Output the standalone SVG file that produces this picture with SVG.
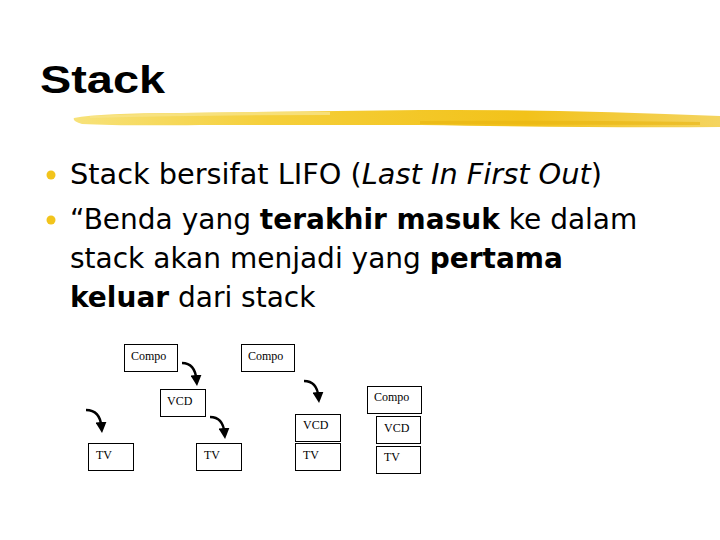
<svg xmlns="http://www.w3.org/2000/svg" width="720" height="540" viewBox="0 0 720 540">
<defs>
<linearGradient id="brush" x1="0" y1="0" x2="1" y2="0">
<stop offset="0" stop-color="#f7e27a"/>
<stop offset="0.3" stop-color="#f5cf3a"/>
<stop offset="0.7" stop-color="#f2c21a"/>
<stop offset="1" stop-color="#f4d460"/>
</linearGradient>
<marker id="ah" markerWidth="11" markerHeight="11" refX="5" refY="5.5" orient="auto" markerUnits="userSpaceOnUse">
<path d="M0,0 L11,5.5 L0,11 Z" fill="#000"/>
</marker>
<style>
.box{fill:#fff;stroke:#000;stroke-width:1}
.lbl{font-family:"Liberation Serif","Times New Roman",serif;font-size:12px;fill:#000}
.arr{fill:none;stroke:#000;stroke-width:2.4;marker-end:url(#ah)}
.body{font-family:"DejaVu Sans",Verdana,sans-serif;font-size:28px;fill:#000}
</style>
</defs>
<rect width="720" height="540" fill="#fff"/>
<text x="40" y="93" font-family="'Liberation Sans',Arial,sans-serif" font-weight="bold" font-size="38" textLength="125" lengthAdjust="spacingAndGlyphs">Stack</text>
<g id="brush-stroke">
<path d="M74,118 Q100,113 180,113 L420,110 Q560,109 720,116 L720,127 Q600,128 420,125 L200,125 Q120,126 82,124 Q72,121 74,118 Z" fill="url(#brush)"/>
<path d="M90,116 Q200,111 330,112 L330,115 Q200,115 90,118 Z" fill="#f8e48a" opacity="0.8"/>
<path d="M420,121 Q560,120 700,122 L700,125 Q560,125 420,124 Z" fill="#e8b410" opacity="0.6"/>
</g>
<g id="bullets">
<circle cx="51" cy="175" r="4.5" fill="#f2c41c"/>
<circle cx="51" cy="220" r="4.5" fill="#f2c41c"/>
<text class="body" x="70" y="184" textLength="532" lengthAdjust="spacingAndGlyphs">Stack bersifat LIFO (<tspan font-style="italic">Last In First Out</tspan>)</text>
<text class="body" x="70" y="229">“Benda yang <tspan font-weight="bold">terakhir masuk</tspan> ke dalam</text>
<text class="body" x="70" y="268">stack akan menjadi yang <tspan font-weight="bold">pertama</tspan></text>
<text class="body" x="70" y="307"><tspan font-weight="bold">keluar</tspan> dari stack</text>
</g>
<g id="compo1"><rect class="box" x="124.5" y="344.5" width="53" height="27"/><text class="lbl" x="131" y="360">Compo</text></g>
<g id="compo2"><rect class="box" x="241.5" y="344.5" width="53" height="27"/><text class="lbl" x="248" y="360">Compo</text></g>
<g id="vcd1"><rect class="box" x="160.5" y="389.5" width="45" height="27"/><text class="lbl" x="167" y="405">VCD</text></g>
<g id="tv1"><rect class="box" x="88.5" y="443.5" width="45" height="27"/><text class="lbl" x="96" y="459">TV</text></g>
<g id="tv2"><rect class="box" x="196.5" y="443.5" width="45" height="27"/><text class="lbl" x="204" y="459">TV</text></g>
<g id="vcd2"><rect class="box" x="295.5" y="414.5" width="45" height="27"/><text class="lbl" x="303" y="429">VCD</text></g>
<g id="tv3"><rect class="box" x="295.5" y="443.5" width="45" height="27"/><text class="lbl" x="303" y="459">TV</text></g>
<g id="compo3"><rect class="box" x="367.5" y="386.5" width="54" height="27"/><text class="lbl" x="374" y="401">Compo</text></g>
<g id="vcd3"><rect class="box" x="376.5" y="416.5" width="44" height="27"/><text class="lbl" x="384" y="432">VCD</text></g>
<g id="tv4"><rect class="box" x="376.5" y="446.5" width="44" height="27"/><text class="lbl" x="384" y="461">TV</text></g>
<g id="connectors">
<path class="arr" d="M182,363 Q195,363 196.5,380"/>
<path class="arr" d="M210,417 Q223,417 224.5,433"/>
<path class="arr" d="M86,410 Q100,410 101.5,427"/>
<path class="arr" d="M304,381 Q317,381 318.5,397"/>
</g>
</svg>
